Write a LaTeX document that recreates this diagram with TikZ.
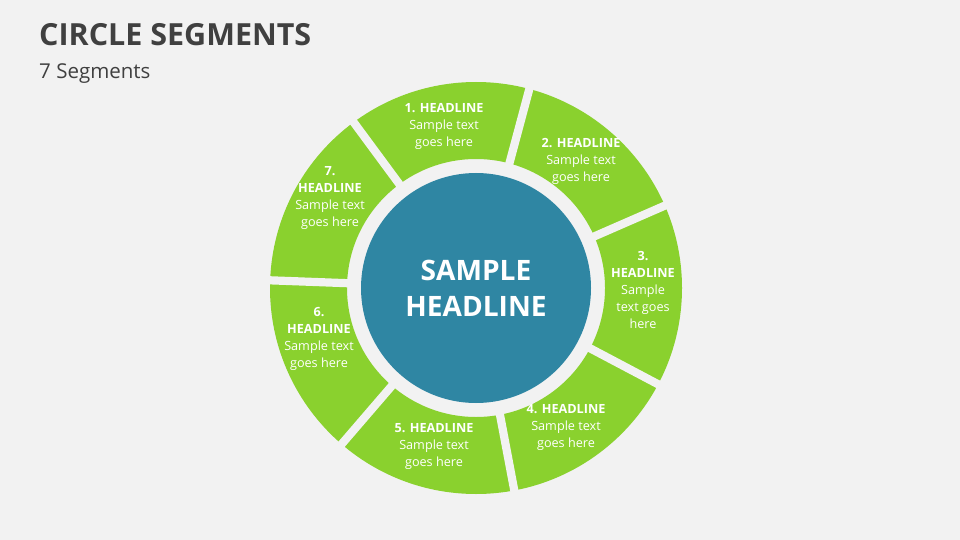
\documentclass[tikz,border=0pt]{standalone}
\usepackage{fontspec}
\usetikzlibrary{calc}
\setmainfont{Open Sans}
\definecolor{bg}{HTML}{F2F2F2}
\definecolor{ttl}{HTML}{404040}
\definecolor{grn}{HTML}{8AD12E}
\definecolor{blu}{HTML}{2F86A3}
\begin{document}
\begin{tikzpicture}[x=0.03cm,y=-0.03cm,
  seg/.style={text=white,align=center,font=\fontsize{10.8}{14.5}\selectfont,inner sep=0pt},
  gap/.style={draw=bg,line width=7pt}]
\fill[bg] (0,0) rectangle (960,540);
\useasboundingbox (0,0) rectangle (960,540);
\node[anchor=west,text=ttl,font=\fontsize{26}{30}\selectfont\bfseries,inner sep=0pt] (title) at (39,35) {CIRCLE SEGMENTS};
\node[anchor=west,text=ttl,font=\fontsize{17.5}{20}\selectfont,inner sep=0pt] (sub) at (39,74) {7 Segments};
\coordinate (c) at (476,288);
\fill[grn,even odd rule] (c) circle[radius=206] (c) circle[radius=129];
\foreach \a in {75,126.43,177.86,229.29,280.71,332.14,23.57}
  \draw[gap] ($(c)+(-\a:120)$) -- ($(c)+(-\a:215)$);
\node[circle,fill=blu,minimum size=230*0.03cm,inner sep=0pt,text=white,align=center,
  font=\fontsize{24}{31}\selectfont\bfseries] (ctr) at (c) {SAMPLE\\HEADLINE};
\node[seg] (s1) at (444,126) {\textbf{1. HEADLINE}\\Sample text\\goes here};
\node[seg] (s2) at (581,161) {\textbf{2. HEADLINE}\\Sample text\\goes here};
\node[seg] (s3) at (643,290) {\textbf{3.}\\\textbf{HEADLINE}\\Sample\\text goes\\here};
\node[seg] (s4) at (566,427) {\textbf{4. HEADLINE}\\Sample text\\goes here};
\node[seg] (s5) at (434,446) {\textbf{5. HEADLINE}\\Sample text\\goes here};
\node[seg] (s6) at (319,339) {\textbf{6.}\\\textbf{HEADLINE}\\Sample text\\goes here};
\node[seg] (s7) at (330,198) {\textbf{7.}\\\textbf{HEADLINE}\\Sample text\\goes here};
\end{tikzpicture}
\end{document}
